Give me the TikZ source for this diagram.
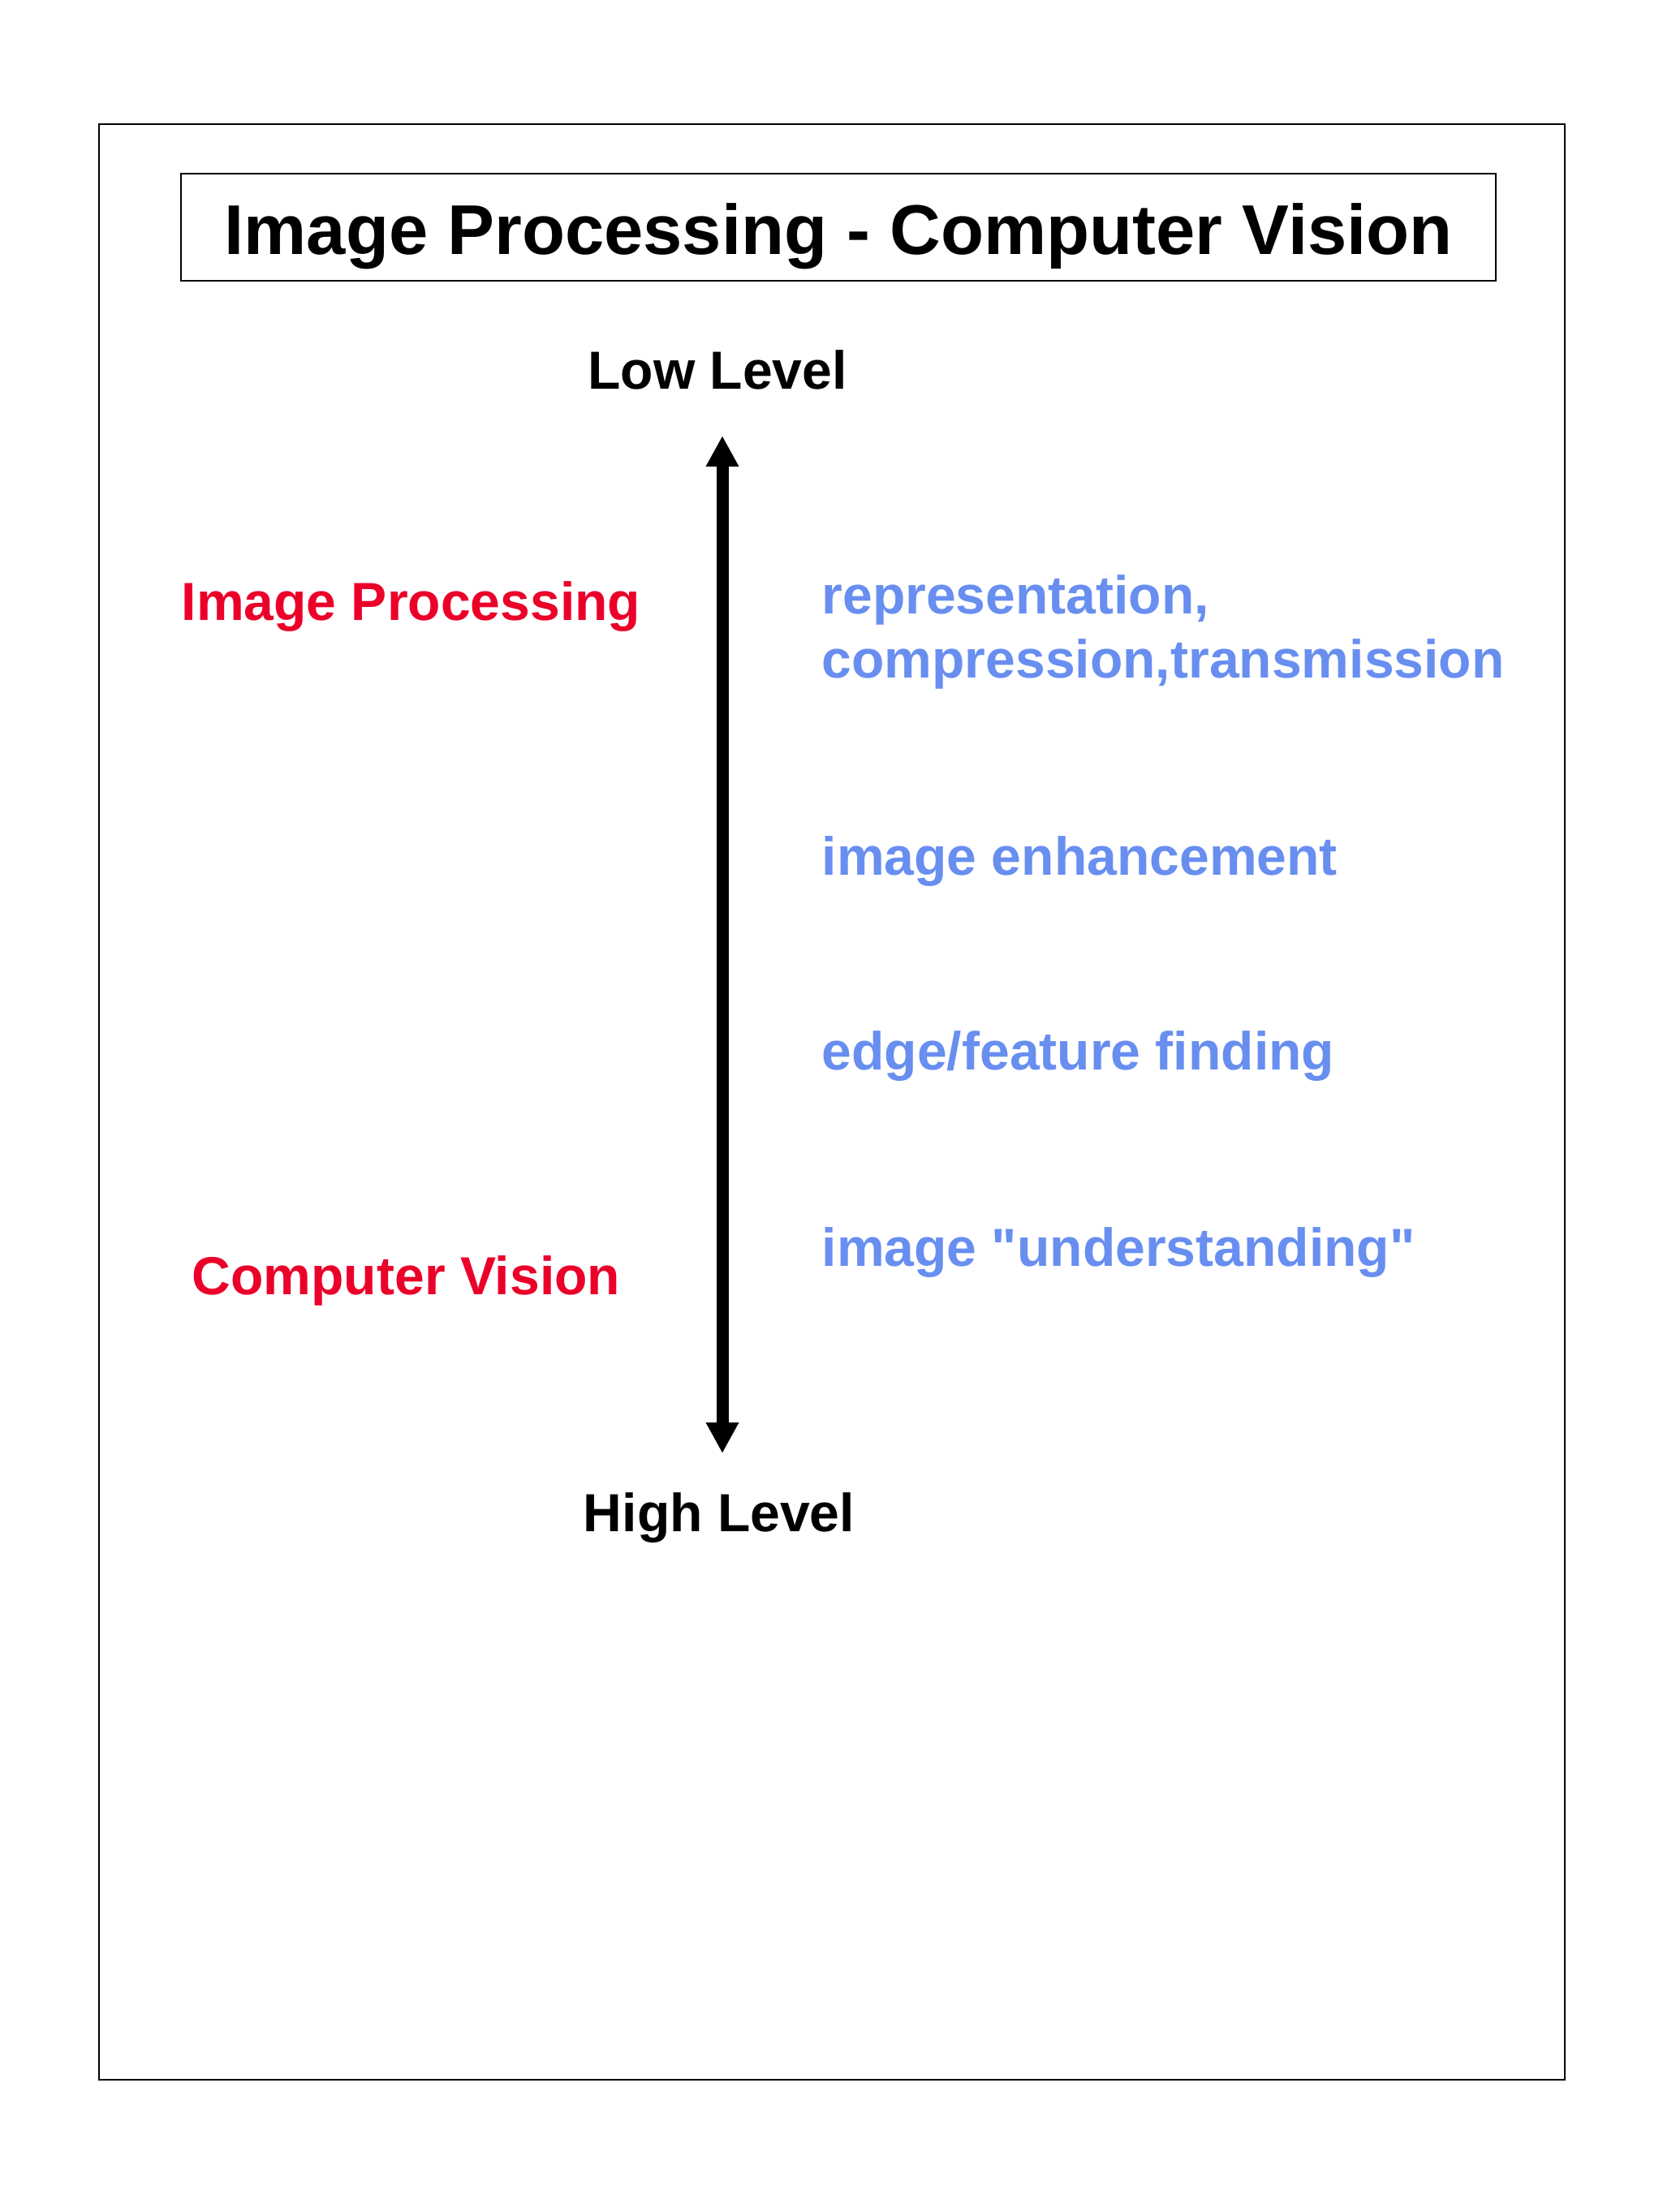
\documentclass[tikz,border=0pt]{standalone}
\usepackage{fontspec}
\setmainfont{Liberation Sans}[Ligatures=TeXOff]
\usetikzlibrary{arrows.meta, positioning}
\usepackage{xcolor}
\definecolor{ipred}{RGB}{235,0,41}
\definecolor{ipblue}{RGB}{104,142,240}

\begin{document}
\begin{tikzpicture}[
  lbl/.style={inner sep=0pt, font=\fontsize{18.8}{22.2}\selectfont\bfseries},
  redlbl/.style={lbl, ipred, anchor=base west},
  bluelbl/.style={lbl, ipblue, anchor=base west, align=left},
  levlbl/.style={lbl, black, anchor=base}
]
\useasboundingbox (0,0) rectangle (20.48,-27.26);
\draw[line width=0.6pt] (1.22,-1.53) rectangle (19.28,-25.63);

% title
\node[draw, line width=0.6pt, minimum width=16.2cm, minimum height=1.32cm,
      text height=0.68cm, text depth=0cm,
      font=\fontsize{24.7}{28}\selectfont\bfseries] (title) at (10.33,-2.80)
  {Image Processing - Computer Vision};

% levels and the arrow
\node[levlbl] (low) at (8.84,-4.80) {Low Level};
\node[levlbl] (high) at (8.86,-18.87) {High Level};
\coordinate (arrtop) at (8.90,-5.37);
\coordinate (arrbot) at (8.90,-17.91);
\draw[{Triangle[width=0.38cm,length=0.38cm]}-{Triangle[width=0.38cm,length=0.38cm]},
      line width=0.15cm] (arrtop) -- (arrbot);

% left side
\node[redlbl] (ip) at (2.23,-7.65) {Image Processing};
\node[redlbl] (cv) at (2.36,-15.95) {Computer Vision};

% right side
\node[bluelbl] (rep) at (10.12,-8.35) {representation,\\compression,transmission};
\node[bluelbl] (enh) at (10.12,-10.78) {image enhancement};
\node[bluelbl] (edge) at (10.12,-13.18) {edge/feature finding};
\node[bluelbl] (und) at (10.12,-15.60) {image "understanding"};
\end{tikzpicture}
\end{document}
